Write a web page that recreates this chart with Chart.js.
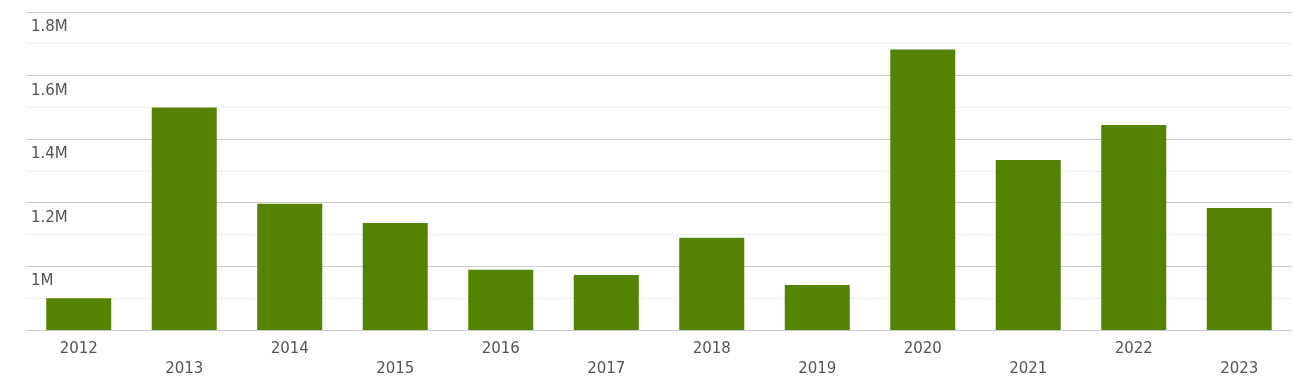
<!DOCTYPE html>
<html>
<head>
<meta charset="utf-8">
<script src="https://cdn.jsdelivr.net/npm/chart.js@4"></script>
<style>
  html, body { margin: 0; padding: 0; background: #fff; }
  #wrap { width: 1293px; height: 384px; }
</style>
</head>
<body>
<div id="wrap"><canvas id="mainChart"></canvas></div>
<script>
// data
const years = ['2012', '2013', '2014', '2015', '2016', '2017', '2018', '2019', '2020', '2021', '2022', '2023'];
const values = [900000, 1500000, 1197000, 1137000, 990000, 973000, 1090000, 942000, 1682000, 1335000, 1445000, 1184000];
const yMin = 800000;
const yMax = 1800000;
const yStep = 100000;

function fmtM(v) {
    return (v / 1e6).toString() + 'M';
}

const ctx = document.getElementById('mainChart');
new Chart(ctx.getContext('2d'), {
    type: 'bar',
    data: {
        labels: years,
        datasets: [{
            data: values,
            backgroundColor: '#548202',
            borderWidth: 0,
            categoryPercentage: 1,
            barPercentage: 0.616
        }]
    },
    options: {
        responsive: true,
        maintainAspectRatio: false,
        animation: false,
        layout: { padding: { left: 16, right: 1, top: 12, bottom: 4 } },
        plugins: {
            legend: { display: false },
            tooltip: { enabled: false }
        },
        scales: {
            x: {
                grid: { display: false },
                border: { display: false },
                ticks: {
                    color: '#555',
                    font: { family: 'DejaVu Sans', size: 15, lineHeight: 1.33 },
                    maxRotation: 0,
                    autoSkip: false,
                    padding: 1,
                    callback: function (val, i) {
                        const lab = years[i];
                        return i % 2 === 0 ? [lab, ''] : ['', lab];
                    }
                }
            },
            y: {
                min: yMin,
                max: yMax,
                border: { display: false },
                grid: {
                    drawTicks: false,
                    color: function (c) {
                        const v = c.tick ? c.tick.value : 0;
                        return Math.round(v / yStep) % 2 === 0 ? '#cccccc' : '#eeeeee';
                    }
                },
                ticks: {
                    stepSize: yStep,
                    mirror: true,
                    padding: 5,
                    labelOffset: 15,
                    color: '#555',
                    font: { family: 'DejaVu Sans', size: 15, lineHeight: 0.9 },
                    callback: function (v) {
                        if (v <= yMin) return '';
                        if (Math.round(v / yStep) % 2 !== 0) return '';
                        return fmtM(v);
                    }
                }
            }
        }
    }
});
</script>
</body>
</html>
